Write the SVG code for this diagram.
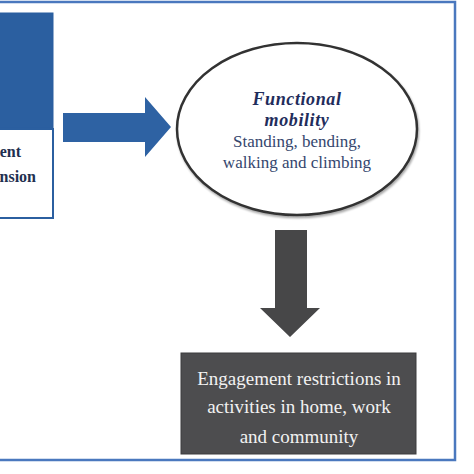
<svg xmlns="http://www.w3.org/2000/svg" width="474" height="474" viewBox="0 0 474 474">
<defs>
<style>
.serif{font-family:"Liberation Serif","Times New Roman",serif}
.lbl{font-size:16px;font-weight:bold;fill:#1f3050}
.fm{font-size:18px;font-weight:bold;font-style:italic;fill:#1f2d5c;letter-spacing:0.6px}
.fmr{font-size:17px;fill:#35466e}
.eng{font-size:19px;fill:#f2f2f2}
</style>
<filter id="sh" x="-10%" y="-10%" width="120%" height="120%">
<feGaussianBlur in="SourceAlpha" stdDeviation="1.2"/>
<feOffset dx="1" dy="1.5" result="b"/>
<feComponentTransfer><feFuncA type="linear" slope="0.35"/></feComponentTransfer>
<feMerge><feMergeNode/><feMergeNode in="SourceGraphic"/></feMerge>
</filter>
</defs>
<rect x="0" y="0" width="474" height="474" fill="#ffffff"/>
<rect id="frame" x="-10" y="2" width="465" height="458" fill="none" stroke="#4a78be" stroke-width="2.5"/>
<g id="node-left">
<rect x="-5" y="13" width="58" height="115" fill="#2b5fa0" stroke="#2b5fa0" stroke-width="1"/>
<rect x="-5" y="129" width="58" height="89" fill="#ffffff" stroke="#2b5fa0" stroke-width="2"/>
<text class="serif lbl" x="21" y="157" text-anchor="end">ent</text>
<text class="serif lbl" x="36" y="182" text-anchor="end">nsion</text>
</g>
<g id="connectors">
<polygon points="63,113 145,113 145,97 171,127 145,157 145,142 63,142" fill="#2e62a3"/>
<polygon points="275,230 307,230 307,308 320,308 290,337 260,308 275,308" fill="#474748"/>
</g>
<g id="node-mobility">
<ellipse cx="297" cy="129" rx="120" ry="86" fill="#ffffff" stroke="#333333" stroke-width="2.5" filter="url(#sh)"/>
<text class="serif fm" x="297" y="105" text-anchor="middle">Functional</text>
<text class="serif fm" x="297" y="126" text-anchor="middle">mobility</text>
<text class="serif fmr" x="297" y="147" text-anchor="middle">Standing, bending,</text>
<text class="serif fmr" x="297" y="168" text-anchor="middle">walking and climbing</text>
</g>
<g id="node-engagement">
<rect x="181" y="353" width="235" height="101" fill="#4d4d4f" stroke="#3d3d3f" stroke-width="1"/>
<text class="serif eng" x="299" y="385" text-anchor="middle">Engagement restrictions in</text>
<text class="serif eng" x="299" y="413" text-anchor="middle">activities in home, work</text>
<text class="serif eng" x="299" y="443" text-anchor="middle">and community</text>
</g>
</svg>
